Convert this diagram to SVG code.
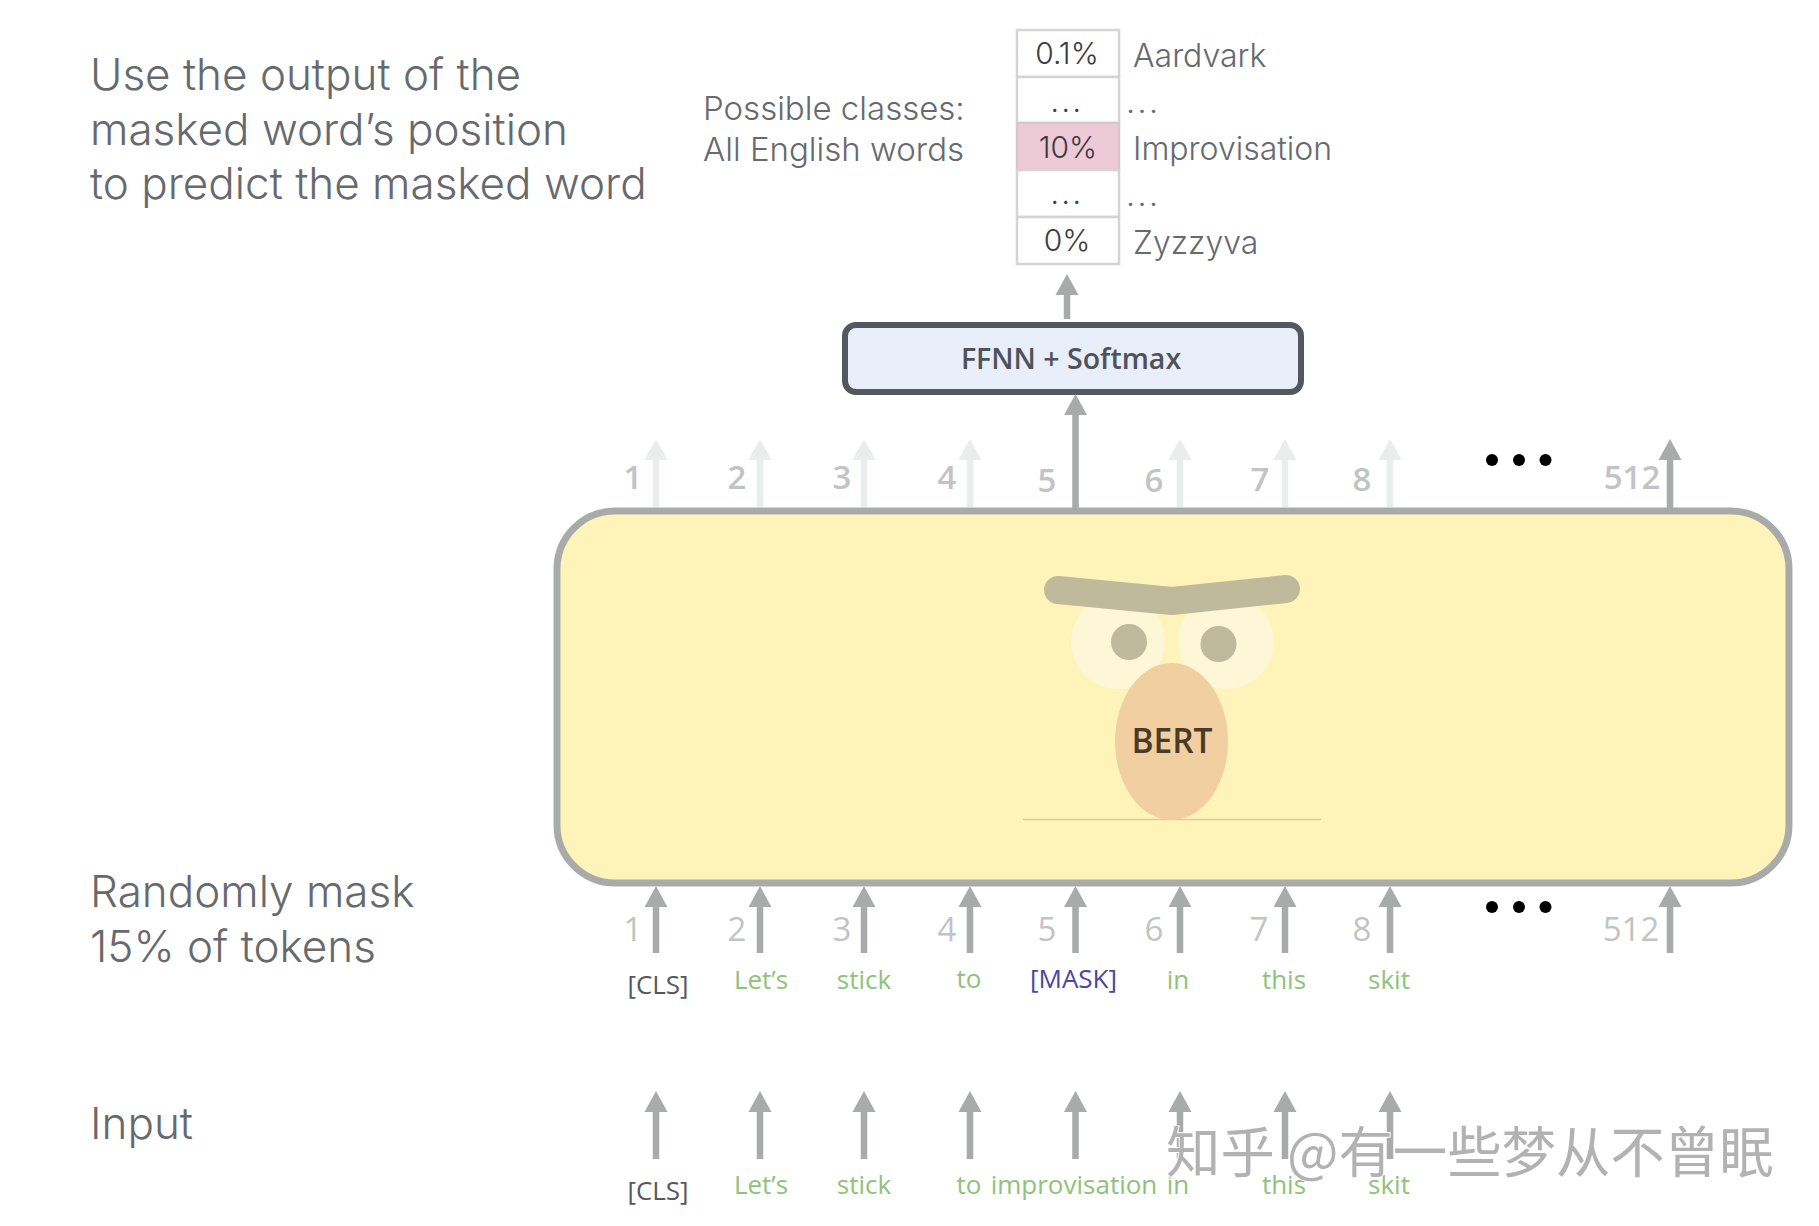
<svg xmlns="http://www.w3.org/2000/svg" width="1819" height="1226" viewBox="0 0 1819 1226">
<style>
.h{font-family:"Inter","Liberation Sans",sans-serif;font-weight:300;fill:#66696d}
.big{font-size:44px}
.mid{font-size:33px}
.lab{font-size:32px}
.o{font-family:"Open Sans","Noto Sans",sans-serif}
.num{font-size:33px;fill:#c2c3c4;text-anchor:middle}
.b5{font-weight:600}
.w{font-size:26px;fill:#8fc27a;text-anchor:middle}
.cls{font-size:26px;fill:#55585c;text-anchor:middle}
.cell{fill:#fff;stroke:#d4d4d4;stroke-width:2.5}
.pct{font-size:30px;fill:#3c3c3c;text-anchor:middle}
.sp{letter-spacing:2.500px}
.dk{stroke:#a9abab;stroke-width:6.5;fill:none}
.lt{stroke:#ebecec;stroke-width:6.5;fill:none}
</style>
<defs>
<marker id="ad" markerUnits="userSpaceOnUse" markerWidth="26" markerHeight="24" refX="13" refY="22" orient="0"><path d="M1.500 22L13 1L24.500 22Z" fill="#a9abab"/></marker>
<marker id="al" markerUnits="userSpaceOnUse" markerWidth="26" markerHeight="24" refX="13" refY="22" orient="0"><path d="M1.500 22L13 1L24.500 22Z" fill="#ebecec"/></marker>
</defs>
<rect width="1819" height="1226" fill="#fff"/>

<g id="caption-top">
<text class="h big" x="90" y="90">Use the output of the</text>
<text class="h big" x="90" y="145">masked word’s position</text>
<text class="h big" x="90" y="199">to predict the masked word</text>
</g>
<g id="caption-classes">
<text class="h mid" x="703" y="120">Possible classes:</text>
<text class="h mid" x="703" y="161">All English words</text>
</g>

<g id="classes-table">
<rect class="cell" x="1017" y="30" width="102" height="47"/>
<rect class="cell" x="1017" y="77" width="102" height="46"/>
<rect x="1017" y="123" width="102" height="47" fill="#eec9d6" stroke="#d9c6cc" stroke-width="2.500"/>
<rect class="cell" x="1017" y="170" width="102" height="47"/>
<rect class="cell" x="1017" y="217" width="102" height="47"/>
<text class="h pct" x="1067" y="64">0.1%</text>
<text class="h pct sp" x="1067" y="112">...</text>
<text class="h pct" x="1068" y="158">10%</text>
<text class="h pct sp" x="1067" y="204">...</text>
<text class="h pct" x="1067" y="251">0%</text>
<text class="h lab" x="1133" y="67">Aardvark</text>
<text class="h lab sp" x="1126" y="113">...</text>
<text class="h lab" x="1133" y="160">Improvisation</text>
<text class="h lab sp" x="1126" y="206">...</text>
<text class="h lab" x="1133" y="254">Zyzzyva</text>
</g>

<g id="ffnn">
<rect x="845" y="325" width="456" height="67" rx="11" fill="#e8eefa" stroke="#54585e" stroke-width="6"/>
<text class="o" x="1071" y="369" font-size="28.500" font-weight="600" fill="#4f5359" text-anchor="middle">FFNN + Softmax</text>
</g>

<g id="bert">
<rect x="557" y="511" width="1232" height="372" rx="58" fill="#fef3b8" stroke="#a9abab" stroke-width="7"/>
<ellipse cx="1118" cy="642" rx="47" ry="47" fill="#fdf7d8"/>
<ellipse cx="1226" cy="642" rx="48" ry="47" fill="#fdf7d8"/>
<ellipse cx="1129" cy="642" rx="18" ry="18" fill="#c0ba9c"/>
<ellipse cx="1218.500" cy="644" rx="18" ry="18" fill="#c0ba9c"/>
<path d="M1058 590L1172 601L1286 589" fill="none" stroke="#c0ba9c" stroke-width="28" stroke-linecap="round" stroke-linejoin="round"/>
<line x1="1023" y1="819.500" x2="1321" y2="819.500" stroke="#d8d09e" stroke-width="1.500"/>
<ellipse cx="1171.500" cy="741.500" rx="56.500" ry="78.500" fill="#f2cfa0"/>
<text class="o" x="1172" y="753" font-size="33.500" font-weight="600" fill="#4a3a28" text-anchor="middle">BERT</text>
</g>

<g id="connectors">
<line class="dk" x1="1067" y1="319" x2="1067" y2="295" marker-end="url(#ad)"/>
<line class="dk" x1="1075.500" y1="509" x2="1075.500" y2="415" marker-end="url(#ad)"/>
<line class="lt" x1="656" y1="507" x2="656" y2="460" marker-end="url(#al)"/>
<line class="lt" x1="760" y1="507" x2="760" y2="460" marker-end="url(#al)"/>
<line class="lt" x1="864" y1="507" x2="864" y2="460" marker-end="url(#al)"/>
<line class="lt" x1="970" y1="507" x2="970" y2="460" marker-end="url(#al)"/>
<line class="lt" x1="1180" y1="507" x2="1180" y2="460" marker-end="url(#al)"/>
<line class="lt" x1="1285" y1="507" x2="1285" y2="460" marker-end="url(#al)"/>
<line class="lt" x1="1390" y1="507" x2="1390" y2="460" marker-end="url(#al)"/>
<line class="dk" x1="1670" y1="509" x2="1670" y2="460" marker-end="url(#ad)"/>
<line class="dk" x1="656" y1="953" x2="656" y2="907" marker-end="url(#ad)"/>
<line class="dk" x1="760" y1="953" x2="760" y2="907" marker-end="url(#ad)"/>
<line class="dk" x1="864" y1="953" x2="864" y2="907" marker-end="url(#ad)"/>
<line class="dk" x1="970" y1="953" x2="970" y2="907" marker-end="url(#ad)"/>
<line class="dk" x1="1075.500" y1="953" x2="1075.500" y2="907" marker-end="url(#ad)"/>
<line class="dk" x1="1180" y1="953" x2="1180" y2="907" marker-end="url(#ad)"/>
<line class="dk" x1="1285" y1="953" x2="1285" y2="907" marker-end="url(#ad)"/>
<line class="dk" x1="1390" y1="953" x2="1390" y2="907" marker-end="url(#ad)"/>
<line class="dk" x1="1670" y1="953" x2="1670" y2="907" marker-end="url(#ad)"/>
<line class="dk" x1="656" y1="1159" x2="656" y2="1112" marker-end="url(#ad)"/>
<line class="dk" x1="760" y1="1159" x2="760" y2="1112" marker-end="url(#ad)"/>
<line class="dk" x1="864" y1="1159" x2="864" y2="1112" marker-end="url(#ad)"/>
<line class="dk" x1="970" y1="1159" x2="970" y2="1112" marker-end="url(#ad)"/>
<line class="dk" x1="1075.500" y1="1159" x2="1075.500" y2="1112" marker-end="url(#ad)"/>
<line class="dk" x1="1180" y1="1159" x2="1180" y2="1112" marker-end="url(#ad)"/>
<line class="dk" x1="1285" y1="1159" x2="1285" y2="1112" marker-end="url(#ad)"/>
<line class="dk" x1="1390" y1="1159" x2="1390" y2="1112" marker-end="url(#ad)"/>
</g>

<g id="output-numbers">
<text class="o num b5" x="633" y="489">1</text>
<text class="o num b5" x="737" y="489">2</text>
<text class="o num b5" x="842" y="489">3</text>
<text class="o num b5" x="947" y="489">4</text>
<text class="o num b5" x="1047" y="492">5</text>
<text class="o num b5" x="1154" y="492">6</text>
<text class="o num b5" x="1260" y="491">7</text>
<text class="o num b5" x="1362" y="491">8</text>
<text class="o num b5" x="1632" y="489">512</text>
</g>
<g id="dots-top"><circle cx="1492" cy="460" r="6"/><circle cx="1519" cy="460" r="6"/><circle cx="1545.500" cy="460" r="6"/></g>
<g id="dots-bottom"><circle cx="1492" cy="907" r="6"/><circle cx="1519" cy="907" r="6"/><circle cx="1545.500" cy="907" r="6"/></g>

<g id="input-numbers">
<text class="o num" x="633" y="941">1</text>
<text class="o num" x="737" y="941">2</text>
<text class="o num" x="842" y="941">3</text>
<text class="o num" x="947" y="941">4</text>
<text class="o num" x="1047" y="941">5</text>
<text class="o num" x="1154" y="941">6</text>
<text class="o num" x="1259" y="941">7</text>
<text class="o num" x="1362" y="941">8</text>
<text class="o num" x="1631" y="941">512</text>
</g>

<g id="masked-tokens">
<text class="o cls" x="658" y="994">[CLS]</text>
<text class="o w" x="761" y="989">Let’s</text>
<text class="o w" x="864" y="989">stick</text>
<text class="o w" x="969" y="988">to</text>
<text class="o" x="1073.500" y="988" font-size="26" fill="#4b45a3" text-anchor="middle">[MASK]</text>
<text class="o w" x="1178" y="989">in</text>
<text class="o w" x="1284" y="989">this</text>
<text class="o w" x="1389" y="989">skit</text>
</g>
<g id="input-tokens">
<text class="o cls" x="658" y="1200">[CLS]</text>
<text class="o w" x="761" y="1194">Let’s</text>
<text class="o w" x="864" y="1194">stick</text>
<text class="o w" x="969" y="1194">to</text>
<text class="o w" x="1074" y="1194">improvisation</text>
<text class="o w" x="1178" y="1194">in</text>
<text class="o w" x="1284" y="1194">this</text>
<text class="o w" x="1389" y="1194">skit</text>
</g>

<g id="caption-mask">
<text class="h big" x="90" y="907">Randomly mask</text>
<text class="h big" x="90" y="962">15% of tokens</text>
</g>
<g id="caption-input"><text class="h big" x="90" y="1139">Input</text></g>

<g id="watermark">
<text x="1166" y="1172" font-family="'Noto Sans CJK SC',sans-serif" font-size="54.400" fill="#b2b2b2" stroke="#fff" stroke-width="2" paint-order="stroke">知乎 @有一些梦从不曾眠</text>
</g>
</svg>
